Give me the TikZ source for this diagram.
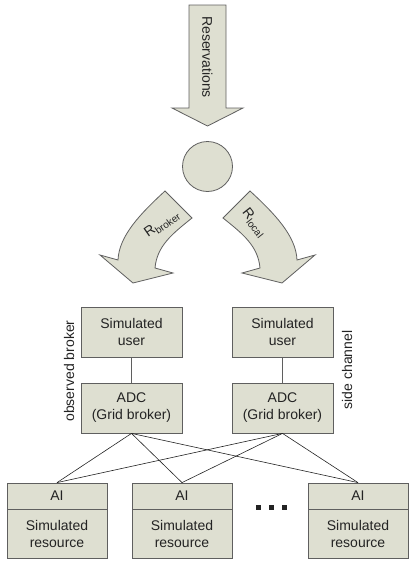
\documentclass[tikz,border=0pt]{standalone}
\usepackage{fontspec}
\setmainfont{Liberation Sans}
\usetikzlibrary{positioning}
\definecolor{boxfill}{RGB}{222,223,209}
\definecolor{boxline}{RGB}{95,95,95}
\definecolor{textcol}{RGB}{35,35,35}

\begin{document}
\begin{tikzpicture}[x=1pt, y=-1pt,
    block/.style={rectangle, draw=boxline, fill=boxfill, line width=0.8pt, minimum width=101pt, minimum height=50pt, inner sep=0pt, align=center, font=\fontsize{14}{17}\selectfont, text=textcol},
    aibox/.style={block, minimum width=100pt, minimum height=26pt},
    resbox/.style={block, minimum width=100pt, minimum height=49pt},
    bigarrow/.style={draw=boxline, fill=boxfill, line width=0.8pt, line join=miter},
    link/.style={draw=textcol, line width=0.6pt},
    sidelabel/.style={font=\fontsize{14}{17}\selectfont, text=textcol, rotate=90},
    label/.style={font=\fontsize{14}{17}\selectfont, text=textcol}
]
\useasboundingbox (0,0) rectangle (415,565);

% Incoming reservations
\draw[bigarrow] (189,5) -- (226,5) -- (226,108) -- (243,108) -- (207.5,126) -- (172,108) -- (189,108) -- cycle;
\node[label, rotate=-90] (resv) at (207.5,57) {Reservations};

% Split point
\node[circle, draw=boxline, fill=boxfill, line width=0.8pt, minimum size=50pt, inner sep=0pt] (split) at (207.5,166.5) {};

% Curved arrows
\draw[bigarrow] (165,191) .. controls (140,214) and (119,236) .. (118,260) -- (100,255) -- (133,283) -- (173,273) -- (155,268) .. controls (157,246) and (172,234) .. (192,218) -- cycle;
\draw[bigarrow] (250,191) .. controls (275,214) and (296,236) .. (297,260) -- (315,255) -- (282,283) -- (242,273) -- (260,268) .. controls (258,246) and (243,234) .. (223,218) -- cycle;
\node[label, rotate=35] (rbroker) at (162,224) {R\raisebox{-0.4ex}{\fontsize{10}{11}\selectfont broker}};
\node[label, rotate=-52] (rlocal) at (254,223) {R\raisebox{-0.4ex}{\fontsize{10}{11}\selectfont local}};

% Users and brokers
\node[block] (user1) at (131.5,332) {Simulated\\user};
\node[block] (adc1) at (131.5,408) {ADC\\(Grid broker)};
\node[block] (user2) at (282.5,332) {Simulated\\user};
\node[block] (adc2) at (282.5,408) {ADC\\(Grid broker)};

\draw[link, draw=boxline, line width=0.8pt] (user1) -- (adc1);
\draw[link, draw=boxline, line width=0.8pt] (user2) -- (adc2);

\node[sidelabel] (obs) at (69,371) {observed broker};
\node[sidelabel] (side) at (347,370) {side channel};

% Resources
\node[aibox] (ai1) at (57,496) {AI};
\node[resbox, below=0pt of ai1] (res1) {Simulated\\resource};
\node[aibox] (ai2) at (182,496) {AI};
\node[resbox, below=0pt of ai2] (res2) {Simulated\\resource};
\node[aibox] (ai3) at (358,496) {AI};
\node[resbox, below=0pt of ai3] (res3) {Simulated\\resource};

% Dots
\foreach \x in {258,271,284}
    \fill[textcol] (\x-2.5,504.5) rectangle ++(5,5);

% Links from brokers to resources
\foreach \b in {adc1,adc2}
    \foreach \r in {ai1,ai2,ai3}
        \draw[link] (\b.south) -- (\r.north);

\end{tikzpicture}
\end{document}
